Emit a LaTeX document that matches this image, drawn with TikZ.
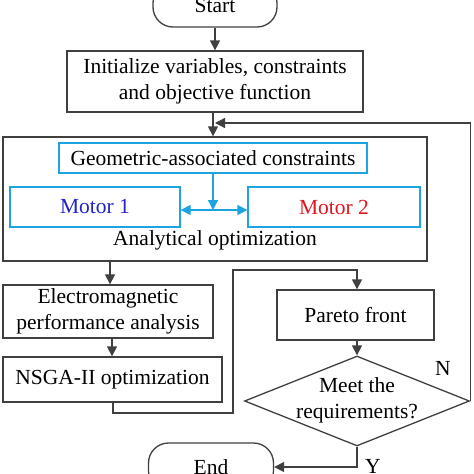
\documentclass[tikz,border=0pt]{standalone}
\usepackage{fontspec}
\setmainfont{Liberation Serif}
\usetikzlibrary{shapes.geometric,arrows.meta}
\definecolor{ln}{HTML}{404040}
\definecolor{cy}{HTML}{1CA3E0}
\definecolor{mblue}{HTML}{2222CC}
\definecolor{mred}{HTML}{E0161E}
\begin{document}
\begin{tikzpicture}[x=1pt,y=-1pt,
  every node/.style={font=\fontsize{21.5}{26}\selectfont, text=black, inner sep=0pt},
  box/.style={draw=ln, line width=1.3pt, align=center, fill=white},
  pill/.style={box, rounded corners=20pt},
  cbox/.style={draw=cy, line width=1.3pt, fill=white},
  arr/.style={draw=ln, line width=1.3pt, -{Triangle[length=10pt,width=10pt]}},
  carr/.style={draw=cy, line width=1.3pt, -{Triangle[length=10pt,width=10pt]}},
  carr2/.style={draw=cy, line width=1.3pt, {Triangle[length=10pt,width=10pt]}-{Triangle[length=10pt,width=10pt]}}]
\useasboundingbox (0,0) rectangle (474,474);
\fill[white] (0,0) rectangle (474,474);

\node[pill, minimum width=124pt, minimum height=44pt] (start) at (215,5) {Start};
\node[box, minimum width=296pt, minimum height=61pt] (init) at (215,81.5) {Initialize variables, constraints\\and objective function};
\node[box, minimum width=424pt, minimum height=124pt] (opt) at (215,199) {};
\node[cbox, minimum width=308pt, minimum height=30pt] (geo) at (213,158) {Geometric-associated constraints};
\node[cbox, minimum width=170pt, minimum height=40pt, text=mblue] (m1) at (95,207) {Motor 1};
\node[cbox, minimum width=172pt, minimum height=40pt, text=mred] (m2) at (334,207) {Motor 2};
\node (ana) at (215,240) {Analytical optimization};
\coordinate (j) at (213,210);
\node[box, minimum width=210pt, minimum height=53pt] (em) at (108,311.5) {Electromagnetic\\performance analysis};
\node[box, minimum width=219pt, minimum height=45pt] (nsga) at (112.5,379.5) {NSGA-II optimization};
\node[box, minimum width=157pt, minimum height=50pt] (pf) at (355.5,315) {Pareto front};
\node[diamond, draw=ln, line width=1.3pt, minimum width=225pt, minimum height=90pt, fill=white] (dec) at (357,401) {};
\node[align=center] (dect) at (357,400) {Meet the\\requirements?};
\node[pill, minimum width=125pt, minimum height=48pt] (end) at (211,467) {End};
\node (nl) at (443,368) {N};
\node (yl) at (373,466) {Y};

\coordinate (fbL) at (215,123);
\coordinate (l1) at (113,413);
\coordinate (l2) at (233,413);
\coordinate (l3) at (233,270);
\coordinate (l4) at (357,270);
\coordinate (y1) at (357,467);

\draw[arr] (start.south -| 215,0) -- (init.north -| 215,0);
\draw[arr] (init.south -| 213,0) -- (opt.north -| 213,0);
\draw[arr] (dec.east) -- (dec.east |- fbL) -- (fbL);
\draw[carr] (geo.south -| 213,0) -- (j);
\draw[carr2] (m1.east |- j) -- (m2.west |- j);
\draw[arr] (opt.south -| 110,0) -- (em.north -| 110,0);
\draw[arr] (em.south -| 112,0) -- (nsga.north -| 112,0);
\draw[arr] (nsga.south -| l1) -- (l1) -- (l2) -- (l3) -- (l4) -- (pf.north -| l4);
\draw[arr] (pf.south -| 357,0) -- (dec.north);
\draw[arr] (dec.south) -- (y1) -- (end.east |- y1);
\end{tikzpicture}
\end{document}
